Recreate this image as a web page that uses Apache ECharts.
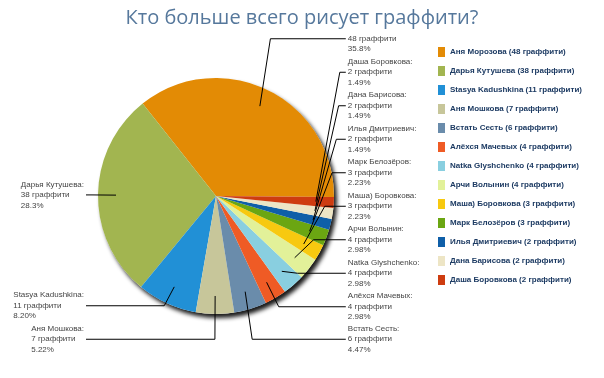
<!DOCTYPE html>
<html>
<head>
<meta charset="utf-8">
<script src="https://cdn.jsdelivr.net/npm/echarts@6/dist/echarts.min.js"></script>
<style>
html, body { margin: 0; padding: 0; background: #fff; }
#chart { width: 604px; height: 378px; }
</style>
</head>
<body>
<div id="chart"></div>
<script>
// кто больше всего рисует граффити
var names = ['Аня Морозова', 'Дарья Кутушева', 'Stasya Kadushkina', 'Аня Мошкова', 'Встать Сесть',
    'Алёхся Мачевых', 'Natka Glyshchenko', 'Арчи Волынин', 'Маша) Боровкова', 'Марк Белозёров',
    'Илья Дмитриевич', 'Дана Барисова', 'Даша Боровкова'];
var counts = [48, 38, 11, 7, 6, 4, 4, 4, 3, 3, 2, 2, 2];
var colors = ['#e38b05', '#a2b550', '#2190d6', '#c7c69a', '#6a8cab', '#ef5b25', '#89cfe0',
    '#e2f199', '#f7c910', '#6ba612', '#0f5fa8', '#ede5c5', '#ce3c10'];
var unit = 'граффити';
var titleText = 'Кто больше всего рисует граффити?';

var countOf = {};
names.forEach(function (n, i) { countOf[n] = counts[i]; });

var pieData = names.map(function (n, i) { return { name: n, value: counts[i] }; });

// проценты обрезаются до 3 значащих цифр (8.20%, 4.47%)
function pct(p) {
    var d = p >= 10 ? 1 : 2;
    var k = Math.pow(10, d);
    return (Math.floor(p * k + 1e-9) / k).toFixed(d) + '%';
}

// общая геометрия круга; центр считается от верха области серии
var box = { left: 0, right: 0, top: 22, bottom: 22 };
var center = [216, 174];

var chart = echarts.init(document.getElementById('chart'));
var option = {
    color: colors,
    animation: false,
    title: {
        text: titleText,
        left: 'center',
        top: 3,
        textStyle: { fontFamily: 'Open Sans', fontSize: 20, fontWeight: 'normal', color: '#56789c' }
    },
    legend: {
        orient: 'vertical',
        left: 433,
        top: 42,
        icon: 'rect',
        itemWidth: 7,
        itemHeight: 10,
        itemGap: 9,
        selectedMode: false,
        data: names,
        formatter: function (name) { return name + ' (' + countOf[name] + ' ' + unit + ')'; },
        textStyle: { fontFamily: 'Liberation Sans', fontSize: 8, fontWeight: 'bold', color: '#1d3b63' }
    },
    series: [
        {   // тень под кругом
            type: 'pie',
            silent: true,
            z: 1,
            left: box.left, right: box.right, top: box.top, bottom: box.bottom,
            center: center,
            radius: 118,
            label: { show: false },
            labelLine: { show: false },
            emphasis: { disabled: true },
            itemStyle: {
                color: '#fff',
                shadowColor: 'rgba(0,0,0,0.9)',
                shadowBlur: 4,
                shadowOffsetX: 3,
                shadowOffsetY: 4
            },
            data: [{ name: '', value: 1 }]
        },
        {
            type: 'pie',
            z: 2,
            left: box.left, right: box.right, top: box.top, bottom: box.bottom,
            center: center,
            radius: 118,
            startAngle: -0.5,
            clockwise: false,
            emphasis: { disabled: true },
            label: { show: false },
            labelLine: { show: false },
            data: pieData
        },
        {   // подписи: прозрачный круг поменьше, чтобы линии начинались внутри сектора
            type: 'pie',
            z: 3,
            silent: true,
            left: box.left, right: box.right, top: box.top, bottom: box.bottom,
            center: center,
            radius: 100,
            startAngle: -0.5,
            clockwise: false,
            percentPrecision: 4,
            emphasis: { disabled: true },
            itemStyle: { color: 'rgba(0,0,0,0)' },
            label: {
                alignTo: 'labelLine',
                distanceToLabelLine: 2,
                color: '#444',
                fontFamily: 'Liberation Sans',
                fontSize: 8,
                lineHeight: 10.5,
                formatter: function (p) {
                    var first = p.dataIndex === 0 ? ' ' : p.name + ':';
                    return '{t|' + first + '}\n{t|' + p.value + ' ' + unit + '}\n{t|' + pct(p.percent) + '}';
                },
                rich: {
                    t: { align: 'left', color: '#444', fontFamily: 'Liberation Sans', fontSize: 8, lineHeight: 10.5 }
                }
            },
            labelLine: {
                length: 24,
                length2: 6,
                lineStyle: { color: '#000', width: 1 }
            },
            data: pieData
        }
    ]
};
chart.setOption(option);
</script>
</body>
</html>
